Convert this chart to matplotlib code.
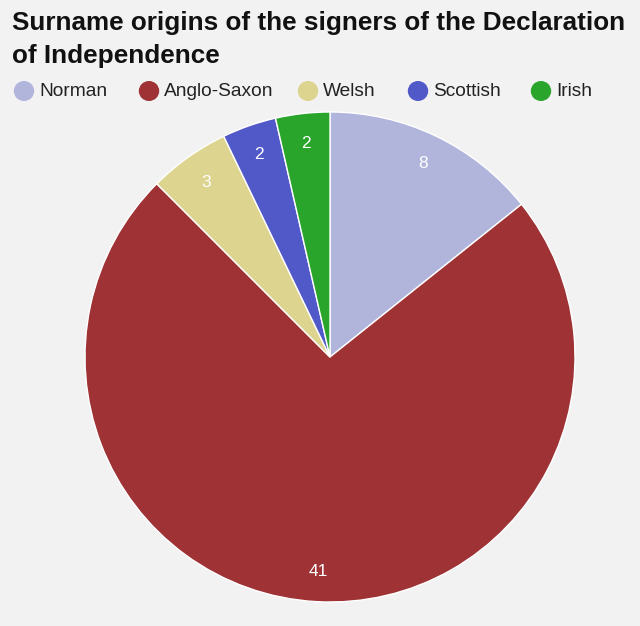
import matplotlib
matplotlib.use("Agg")
import matplotlib.pyplot as plt

plt.rcParams['font.family'] = ['Liberation Sans', 'DejaVu Sans']

origins = ['Norman', 'Anglo-Saxon', 'Welsh', 'Scottish', 'Irish']
signers = [8, 41, 3, 2, 2]
colors = ['#b1b5dc', '#9e3235', '#ddd490', '#5159c9', '#2aa52b']

fig = plt.figure(figsize=(6.4, 6.26), dpi=100)
fig.patch.set_facecolor('#f2f2f2')

ax = fig.add_axes([85 / 640, 24 / 626, 490 / 640, 490 / 626])
ax.set_facecolor('#f2f2f2')
wedges, texts = ax.pie(signers, colors=colors, startangle=90, counterclock=False,
                       labels=[str(v) for v in signers], labeldistance=0.875,
                       wedgeprops=dict(edgecolor='white', linewidth=1),
                       textprops=dict(color='white', fontsize=12.5))
for t in texts:
    t.set_ha('center')
    t.set_va('center')
ax.set_xlim(-1, 1)
ax.set_ylim(-1, 1)
ax.set_aspect('equal')
ax.axis('off')

title_lines = ['Surname origins of the signers of the Declaration', 'of Independence']
for y, line in zip([23, 56], title_lines):
    fig.text(12 / 640, 1 - y / 626, line, fontsize=18.8, fontweight='bold',
             color='#111111', va='center', ha='left')

legend_x = [24, 149, 308, 418, 541]
for x, name, c in zip(legend_x, origins, colors):
    fig.patches.append(plt.Circle((x / 640, 1 - 91 / 626), 9.5 / 640, color=c,
                                  transform=fig.transFigure, figure=fig))
    fig.text((x + 15) / 640, 1 - 91 / 626, name, fontsize=13.8, color='#222222',
             va='center', ha='left')

fig.savefig('out.png', dpi=100, facecolor=fig.get_facecolor())
